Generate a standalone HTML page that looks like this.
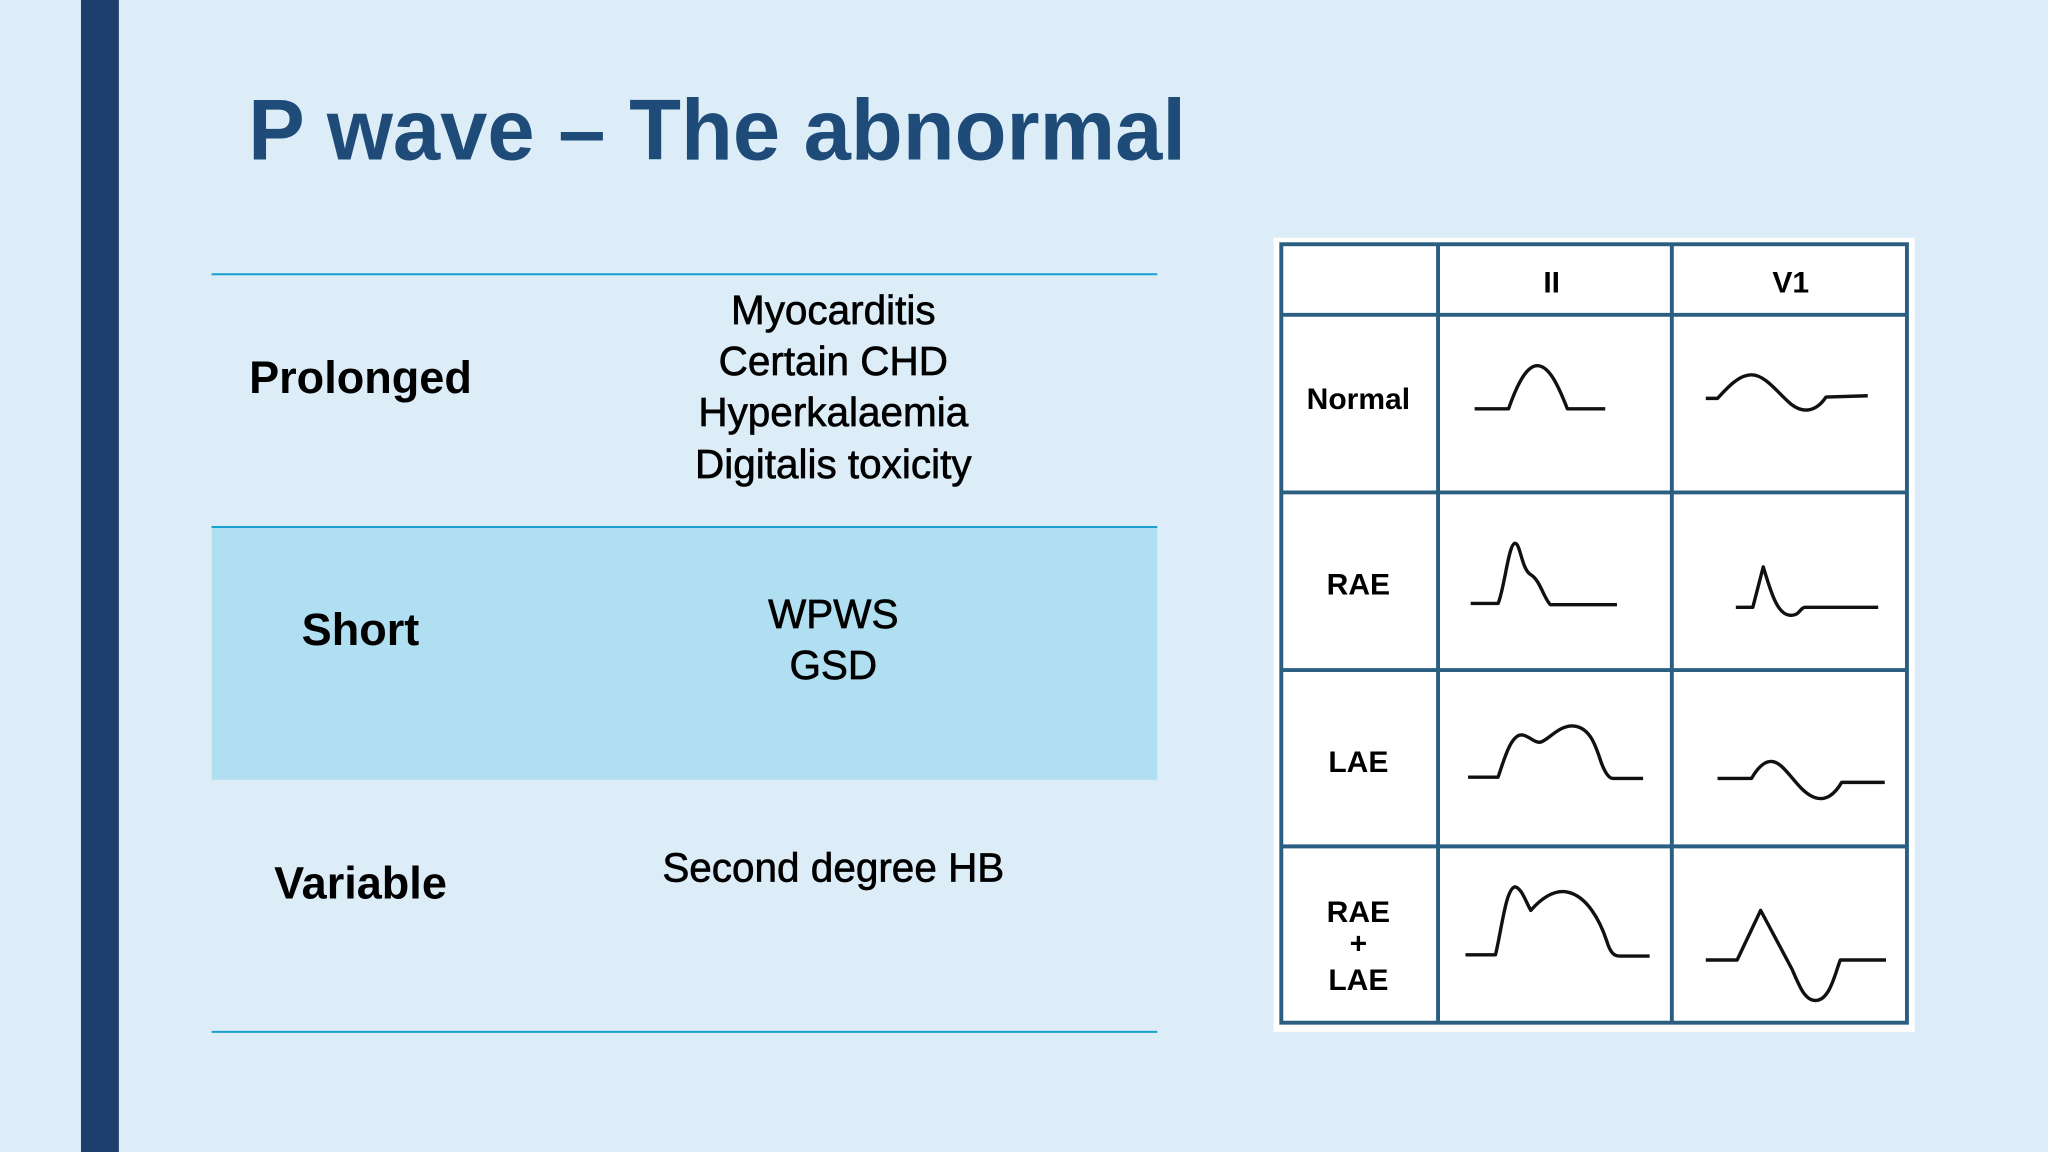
<!DOCTYPE html>
<html><head><meta charset="utf-8"><style>
html,body{margin:0;padding:0;background:#dcedf8;}
svg{display:block;}
text{font-family:"Liberation Sans",sans-serif;}
</style></head><body>
<svg width="2048" height="1152" viewBox="0 0 1568 882" xmlns="http://www.w3.org/2000/svg">
<rect x="0" y="0" width="1568" height="882" fill="#dcedf8"/>
<rect x="62" y="0" width="29" height="882" fill="#1d3f6e"/>
<text x="190" y="122" font-size="66" font-weight="bold" fill="#1e4b78" textLength="718" lengthAdjust="spacingAndGlyphs">P wave – The abnormal</text>

<g>
<rect x="162" y="403" width="724" height="194" fill="#b0dff2"/>
<line x1="162" y1="210" x2="886" y2="210" stroke="#1aa0cc" stroke-width="1.5"/>
<line x1="162" y1="403.5" x2="886" y2="403.5" stroke="#1aa0cc" stroke-width="1.5"/>
<line x1="162" y1="790" x2="886" y2="790" stroke="#1aa0cc" stroke-width="1.5"/>
<text x="276" y="301" font-size="34.5" font-weight="bold" text-anchor="middle" fill="#000">Prolonged</text>
<text x="276" y="494" font-size="34.5" font-weight="bold" text-anchor="middle" fill="#000">Short</text>
<text x="276" y="688" font-size="34.5" font-weight="bold" text-anchor="middle" fill="#000">Variable</text>
<g font-size="31" text-anchor="middle" fill="#000" stroke="#000" stroke-width="0.5">
<text x="638" y="248">Myocarditis</text>
<text x="638" y="287">Certain CHD</text>
<text x="638" y="326">Hyperkalaemia</text>
<text x="638" y="366">Digitalis toxicity</text>
</g>
<g font-size="31" text-anchor="middle" fill="#000" stroke="#000" stroke-width="0.5">
<text x="638" y="481">WPWS</text>
<text x="638" y="520">GSD</text>
</g>
<text x="638" y="675" font-size="31" text-anchor="middle" fill="#000" stroke="#000" stroke-width="0.5">Second degree HB</text>
</g>

<g>
<rect x="975" y="182" width="491" height="608" fill="#ffffff"/>
<g stroke="#2a5f82" stroke-width="3" fill="none">
<rect x="981" y="187" width="479" height="596"/>
<line x1="1101" y1="187" x2="1101" y2="783"/>
<line x1="1280" y1="187" x2="1280" y2="783"/>
<line x1="981" y1="241" x2="1460" y2="241"/>
<line x1="981" y1="377" x2="1460" y2="377"/>
<line x1="981" y1="513" x2="1460" y2="513"/>
<line x1="981" y1="648" x2="1460" y2="648"/>
</g>
<g font-size="23" font-weight="bold" text-anchor="middle" fill="#000">
<text x="1188" y="224">II</text>
<text x="1371" y="224">V1</text>
<text x="1040" y="313">Normal</text>
<text x="1040" y="455">RAE</text>
<text x="1040" y="591">LAE</text>
<text x="1040" y="706">RAE</text>
<text x="1040" y="730">+</text>
<text x="1040" y="758">LAE</text>
</g>
<g stroke="#111" stroke-width="2.6" fill="none" stroke-linejoin="round">
<path d="M1129,313 L1155,313 C1163,290 1170,280 1177,280 C1186,280 1193,295 1200,313 L1229,313"/>
<path d="M1306,305 L1315,305 C1324,295 1332,287 1341,287 C1352,287 1362,302 1372,310 C1380,316 1390,316 1398,304 L1430,303"/>
<path d="M1126,462 L1147,462 C1152,450 1155,416 1160,416 C1164,416 1165,436 1172,440 C1179,444 1182,458 1187,463 L1238,463"/>
<path d="M1329,465 L1342,465 L1350,434 C1355,450 1360,470 1370,471 C1378,472 1378,465 1382,465 L1438,465"/>
<path d="M1124,595 L1147,595 C1152,580 1156,566 1163,563 C1169,561 1175,570 1180,568 C1186,566 1195,554 1206,556 C1218,558 1222,572 1226,584 C1229,592 1232,596 1235,596 L1258,596"/>
<path d="M1315,596 L1341,596 C1345,589 1350,583 1356,583 C1366,583 1374,602 1386,609 C1398,616 1406,606 1410,599 L1443,599"/>
<path d="M1122,731 L1145,731 C1150,710 1153,680 1160,679 C1165,680 1168,690 1172,697 C1180,688 1190,681 1200,683 C1215,686 1225,705 1230,720 C1233,730 1236,732 1240,732 L1263,732"/>
<path d="M1306,735 L1330,735 L1348,697 L1372,742 C1378,756 1382,766 1390,766 C1401,766 1405,745 1409,735 L1444,735"/>
</g>
</g>
</svg>
</body></html>
